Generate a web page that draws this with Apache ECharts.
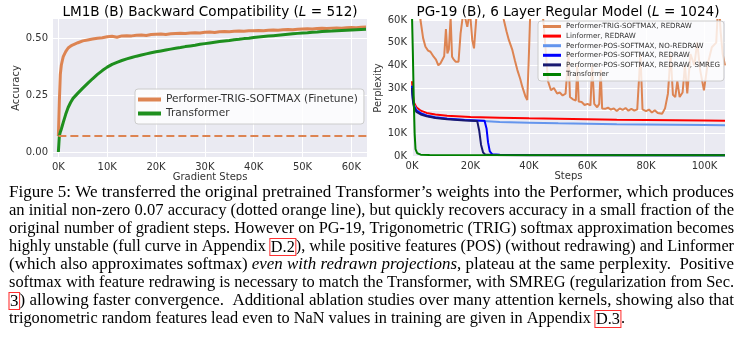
<!DOCTYPE html>
<html>
<head>
<meta charset="utf-8">
<script src="https://cdn.jsdelivr.net/npm/echarts@6/dist/echarts.min.js"></script>
<style>
  html, body { margin: 0; padding: 0; background: #ffffff; }
  #chart { width: 741px; height: 337px; }
</style>
</head>
<body>
<div id="chart"></div>
<script>
// ---- LM1B (left) ----
const lmSteps = [0, 200, 400, 600, 800, 1000, 1500, 2000, 2500, 3000,
  4000, 5000, 6000, 7000, 8000, 9000, 10000, 11000, 12000, 13000,
  14000, 15000, 16000, 17000, 18000, 19000, 20000, 21000, 22000, 23000,
  24000, 25000, 26000, 27000, 28000, 29000, 30000, 31000, 32000, 33000,
  34000, 35000, 36000, 37000, 38000, 39000, 40000, 41000, 42000, 43000,
  44000, 45000, 46000, 47000, 48000, 49000, 50000, 51000, 52000, 53000,
  54000, 55000, 56000, 57000, 58000, 59000, 60000, 61000, 62000, 63000];
const lmTrig = [0.07, 0.22, 0.34, 0.38, 0.40, 0.418, 0.44, 0.456, 0.464, 0.47,
  0.479, 0.487, 0.491, 0.495, 0.499, 0.501, 0.505, 0.507, 0.503, 0.509,
  0.510, 0.509, 0.512, 0.513, 0.511, 0.515, 0.516, 0.517, 0.515, 0.518,
  0.519, 0.520, 0.519, 0.522, 0.523, 0.522, 0.525, 0.526, 0.524, 0.527,
  0.528, 0.527, 0.529, 0.530, 0.529, 0.531, 0.532, 0.533, 0.532, 0.534,
  0.535, 0.534, 0.536, 0.537, 0.536, 0.538, 0.539, 0.540, 0.539, 0.541,
  0.542, 0.541, 0.543, 0.544, 0.543, 0.545, 0.546, 0.545, 0.547, 0.548];
const lmTransformer = [0.0, 0.07, 0.088, 0.10, 0.115, 0.13, 0.165, 0.195, 0.217, 0.235,
  0.258, 0.28, 0.301, 0.321, 0.34, 0.357, 0.372, 0.384, 0.393, 0.401,
  0.408, 0.414, 0.420, 0.425, 0.430, 0.435, 0.439, 0.443, 0.447, 0.451,
  0.455, 0.458, 0.462, 0.465, 0.468, 0.472, 0.475, 0.478, 0.481, 0.484,
  0.487, 0.489, 0.492, 0.494, 0.497, 0.499, 0.502, 0.504, 0.506, 0.508,
  0.510, 0.512, 0.514, 0.516, 0.518, 0.520, 0.522, 0.523, 0.525, 0.526,
  0.528, 0.529, 0.530, 0.532, 0.533, 0.534, 0.535, 0.536, 0.537, 0.538];
const lmInitSteps = [0, 63200];
const lmInitAcc = [0.07, 0.07];
const lmXTicks = [0, 10000, 20000, 30000, 40000, 50000, 60000];
const lmYTicks = [0, 0.25, 0.5];

// ---- PG-19 (right) ----
const trigSteps = [2000, 2900, 3800, 4600, 5500, 6300, 7400, 8200, 9000, 9700,
  10300, 11000, 11600, 12100, 12600, 13200, 13700, 14300, 14900, 15900,
  16600, 17600, 18900, 19800, 20600, 21200, 21700, 22300, 30800, 31400,
  32300, 33100, 34300, 35200, 36000, 37000, 37700, 38800, 39400, 39900,
  40500, 44500, 45800, 46500, 47500, 48500, 49600, 50500, 51500, 52500,
  53500, 54000, 55000, 56000, 56500, 57000, 58000, 59000, 60000, 61000,
  61600, 62300, 63300, 64000, 64500, 65000, 66000, 67000, 68000, 69000,
  70000, 71000, 72000, 73000, 74000, 75000, 76000, 77000, 78100, 78800,
  80000, 81000, 82000, 83000, 84000, 85500, 86500, 87500, 88400, 89200,
  90000, 90700, 91500, 92500, 93300, 94100, 95200, 96500, 97500, 98500,
  99800, 101000, 102500, 104000, 104800, 105500, 106200, 107000];
const trigPpl = [70000, 60000, 52000, 48200, 46500, 46000, 43800, 42500, 40000, 40800,
  41600, 44000, 56000, 45300, 47000, 61000, 43800, 42500, 41600, 41600,
  54000, 64000, 57000, 64000, 51200, 47500, 46800, 66000, 66000, 60000,
  55000, 51200, 46800, 42000, 38000, 34000, 30600, 26200, 24700, 42300,
  66000, 66000, 45000, 33000, 29000, 30000, 27600, 28000, 26700, 27500,
  45000, 26000, 25000, 24500, 40000, 24000, 23800, 22500, 23000, 22300,
  40000, 23000, 21500, 23000, 38000, 21000, 20800, 21300, 20500, 21000,
  19900, 21000, 20300, 21200, 20000, 20800, 20000, 20600, 45000, 20600,
  19800, 20500, 19200, 20200, 19000, 18600, 21000, 27600, 45000, 27000,
  26000, 33000, 26000, 28000, 40000, 27600, 45000, 40000, 50000, 38000,
  29000, 40000, 48000, 50000, 70000, 55000, 45000, 40000];

const linSteps = [0, 300, 700, 1500, 3000, 5000, 8000, 12000, 20000, 30000, 40000,
  50000, 60000, 70000, 80000, 90000, 100000, 107000];
const linPpl = [33000, 27000, 23500, 21500, 20000, 19000, 18300, 17800, 17200, 16900, 16600,
  16400, 16200, 16000, 15900, 15800, 15700, 15600];
const posNoRedrawPpl = [31000, 25500, 22500, 20500, 19000, 18000, 17200, 16600, 15800, 15000, 14700,
  14400, 14200, 14000, 13900, 13800, 13700, 13600];

const posRedrawSteps = [0, 300, 700, 1500, 3000, 5000, 8000, 12000, 18000, 22000, 24800,
  25500, 26000, 26600, 27400, 30000, 40000, 107000];
const posRedrawPpl = [31000, 25000, 22000, 20000, 18800, 17800, 17000, 16400, 15900, 15700, 15500,
  12000, 6000, 2000, 800, 500, 400, 300];
const smregSteps = [0, 300, 700, 1500, 3000, 5000, 8000, 12000, 18000, 22300, 23000,
  23600, 24300, 25000, 28000, 40000, 107000];
const smregPpl = [30000, 24500, 21500, 19500, 18300, 17500, 16800, 16200, 15700, 15400, 11000,
  5000, 1500, 700, 450, 350, 300];
const pgTransSteps = [0, 300, 600, 900, 1200, 1800, 3000, 6000, 107000];
const pgTransPpl = [62000, 45000, 25000, 10000, 3000, 1200, 600, 400, 300];
const pgXTicks = [0, 20000, 40000, 60000, 80000, 100000];
const pgYTicks = [0, 10000, 20000, 30000, 40000, 50000, 60000];

const ORANGE = '#dd8452';
const GREEN_L = '#1e8f1e';
const GREEN_R = '#008000';
const TXT = '#333333';

function pairs(xs, ys) {
  return xs.map((x, i) => [x, ys[i]]);
}
const kFmt = v => Math.round(v / 1000) + 'K';

function lineSeries(name, xi, xs, ys, color, width, extra) {
  return Object.assign({
    name: name, type: 'line', xAxisIndex: xi, yAxisIndex: xi,
    data: pairs(xs, ys), showSymbol: false, symbol: 'none',
    lineStyle: { color: color, width: width }, itemStyle: { color: color },
    emphasis: { disabled: true }, silent: true, clip: true
  }, extra || {});
}

// ---- caption lines: [style, text] segments; n = normal, i = italic, b = link box ----
const captionLines = [
  [['n', 'Figure 5: We transferred the original pretrained Transformer\u2019s weights into the Performer, which produces']],
  [['n', 'an initial non-zero 0.07 accuracy (dotted orange line), but quickly recovers accuracy in a small fraction of the']],
  [['n', 'original number of gradient steps. However on PG-19, Trigonometric (TRIG) softmax approximation becomes']],
  [['n', 'highly unstable (full curve in Appendix '], ['b', 'D.2'], ['n', '), while positive features (POS) (without redrawing) and Linformer']],
  [['n', '(which also approximates softmax) '], ['i', 'even with redrawn projections'], ['n', ', plateau at the same perplexity.  Positive']],
  [['n', 'softmax with feature redrawing is necessary to match the Transformer, with SMREG (regularization from Sec.']],
  [['b', '3'], ['n', ') allowing faster convergence.  Additional ablation studies over many attention kernels, showing also that']],
  [['n', 'trigonometric random features lead even to NaN values in training are given in Appendix '], ['b', 'D.3'], ['n', '.']]
];
const captionRight = [734, 734, 734, 734, 734, 734, 734, 625];
const CAP_FS = 16;
const CAP_FONT = '"Liberation Serif", "Times New Roman", serif';

const mctx = document.createElement('canvas').getContext('2d');
function segWidth(segs) {
  let w = 0;
  segs.forEach(([s, t]) => {
    mctx.font = (s === 'i' ? 'italic ' : '') + CAP_FS + 'px ' + CAP_FONT;
    w += mctx.measureText(t).width + (s === 'b' ? 2 : 0);
  });
  return w;
}

const capRich = {
  n: { fontFamily: CAP_FONT, fontSize: CAP_FS, color: '#111' },
  i: { fontFamily: CAP_FONT, fontSize: CAP_FS, fontStyle: 'italic', color: '#111' },
  b: { fontFamily: CAP_FONT, fontSize: CAP_FS, color: '#111', borderColor: '#ff3030', borderWidth: 1, padding: [1, 1, 0, 1] }
};

const graphics = [
  { type: 'rect', z: 50, shape: { x: 0, y: 180.5, width: 741, height: 160 }, style: { fill: '#ffffff' } }
];
captionLines.forEach((segs, i) => {
  const w = segWidth(segs);
  graphics.push({
    type: 'text', z: 60, x: 9, y: 193 + i * 18,
    scaleX: (captionRight[i] - 9) / w,
    style: {
      text: segs.map(([s, t]) => '{' + s + '|' + t + '}').join(''),
      rich: capRich, verticalAlign: 'middle', align: 'left'
    }
  });
});

const titleRich = {
  n: { fontFamily: 'DejaVu Sans', fontSize: 14, color: '#222' },
  i: { fontFamily: 'DejaVu Sans', fontSize: 14, fontStyle: 'italic', color: '#222' }
};
graphics.push({
  type: 'text', z: 60, x: 210, y: 12, scaleX: 0.97,
  style: { text: '{n|LM1B (B) Backward Compatibility (}{i|L}{n| = 512)}', rich: titleRich, align: 'center', verticalAlign: 'middle' }
});
graphics.push({
  type: 'text', z: 60, x: 568, y: 12, scaleX: 0.97,
  style: { text: '{n|PG-19 (B), 6 Layer Regular Model (}{i|L}{n| = 1024)}', rich: titleRich, align: 'center', verticalAlign: 'middle' }
});

function valueAxis(gi, min, max, ticks, fmt, name, gap, extra) {
  return Object.assign({
    type: 'value', gridIndex: gi, min: min, max: max,
    axisLine: { show: false },
    axisTick: { show: false, customValues: ticks },
    axisLabel: { customValues: ticks, formatter: fmt, color: TXT, fontSize: 10, fontFamily: 'DejaVu Sans', margin: 5 },
    splitLine: { show: true, lineStyle: { color: '#ffffff', width: 1 } },
    name: name, nameLocation: 'middle', nameGap: gap,
    nameTextStyle: { color: TXT, fontSize: 10, fontFamily: 'DejaVu Sans' }
  }, extra || {});
}

const option = {
  animation: false,
  backgroundColor: '#ffffff',
  grid: [
    { left: 53, top: 19, width: 314, height: 138, show: true, backgroundColor: '#eaeaf2', borderWidth: 0 },
    { left: 412, top: 20, width: 313, height: 136, show: true, backgroundColor: '#eaeaf2', borderWidth: 0 }
  ],
  xAxis: [
    valueAxis(0, -1100, 63200, lmXTicks, kFmt, 'Gradient Steps', 15),
    valueAxis(1, 0, 107000, pgXTicks, kFmt, 'Steps', 15)
  ],
  yAxis: [
    valueAxis(0, -0.022, 0.583, lmYTicks, v => v.toFixed(2), 'Accuracy', 24),
    valueAxis(1, 0, 60000, pgYTicks, kFmt, 'Perplexity', 23)
  ],
  legend: [
    {
      orient: 'vertical', left: 135, top: 89, icon: 'rect', itemWidth: 23, itemHeight: 4, itemGap: 3,
      padding: [5, 6, 5, 3], backgroundColor: 'rgba(255,255,255,0.8)', borderColor: '#cccccc', borderWidth: 1, borderRadius: 3,
      textStyle: { color: TXT, fontSize: 10.6, fontFamily: 'DejaVu Sans' },
      selectedMode: false,
      data: ['Performer-TRIG-SOFTMAX (Finetune)', { name: 'Transformer', itemStyle: { color: GREEN_L } }]
    },
    {
      orient: 'vertical', left: 538, top: 21, icon: 'rect', itemWidth: 18, itemHeight: 3, itemGap: 2.6,
      padding: [2, 4, 3, 5], backgroundColor: 'rgba(255,255,255,0.8)', borderColor: '#cccccc', borderWidth: 1, borderRadius: 3,
      textStyle: { color: TXT, fontSize: 7.1, fontFamily: 'DejaVu Sans' },
      selectedMode: false,
      data: ['Performer-TRIG-SOFTMAX, REDRAW', 'Linformer, REDRAW', 'Performer-POS-SOFTMAX, NO-REDRAW',
        'Performer-POS-SOFTMAX, REDRAW', 'Performer-POS-SOFTMAX, REDRAW, SMREG',
        { name: 'Transformer', itemStyle: { color: GREEN_R } }]
    }
  ],
  series: [
    lineSeries('Performer-TRIG-SOFTMAX (Finetune)', 0, lmSteps, lmTrig, ORANGE, 3),
    lineSeries('Transformer', 0, lmSteps, lmTransformer, GREEN_L, 3),
    lineSeries('init', 0, lmInitSteps, lmInitAcc, ORANGE, 2, { lineStyle: { color: ORANGE, width: 2, type: [8, 4] } }),

    lineSeries('Performer-TRIG-SOFTMAX, REDRAW', 1, trigSteps, trigPpl, ORANGE, 2),
    lineSeries('Linformer, REDRAW', 1, linSteps, linPpl, '#ff0000', 2),
    lineSeries('Performer-POS-SOFTMAX, NO-REDRAW', 1, linSteps, posNoRedrawPpl, '#6495ed', 2),
    lineSeries('Performer-POS-SOFTMAX, REDRAW', 1, posRedrawSteps, posRedrawPpl, '#0000ff', 2),
    lineSeries('Performer-POS-SOFTMAX, REDRAW, SMREG', 1, smregSteps, smregPpl, '#191970', 2),
    lineSeries('Transformer', 1, pgTransSteps, pgTransPpl, GREEN_R, 2)
  ],
  graphic: graphics
};

const chart = echarts.init(document.getElementById('chart'), null, { renderer: 'canvas' });
chart.setOption(option);
</script>
</body>
</html>
